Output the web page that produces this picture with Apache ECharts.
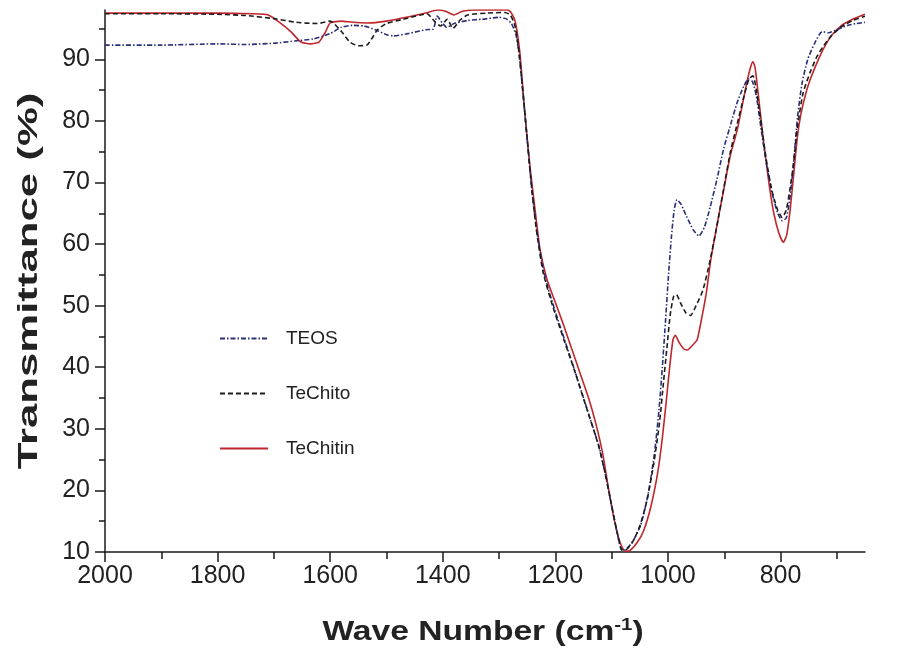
<!DOCTYPE html>
<html>
<head>
<meta charset="utf-8">
<script src="https://cdn.jsdelivr.net/npm/echarts@6/dist/echarts.min.js"></script>
<style>
html,body{margin:0;padding:0;background:#fff;}
#chart{width:898px;height:658px;}
</style>
</head>
<body>
<div id="chart"></div>
<script>
const seriesNames = ['TEOS', 'TeChito', 'TeChitin'];
const xMajorTicks = [2000, 1800, 1600, 1400, 1200, 1000, 800];
const xMinorTicks = [1900, 1700, 1500, 1300, 1100, 900, 700];
const yMajorTicks = [10, 20, 30, 40, 50, 60, 70, 80, 90];
const yMinorTicks = [15, 25, 35, 45, 55, 65, 75, 85, 95];

const teosData = [
  [2000, 92.3], [1900, 92.3], [1800, 92.5], [1750, 92.4], [1700, 92.6], [1660, 93.0], [1630, 93.3],
  [1600, 94.2], [1580, 95.2], [1560, 95.5], [1540, 95.4], [1520, 94.8], [1500, 94.0], [1488, 93.8],
  [1460, 94.2], [1430, 94.8], [1417, 94.9], [1410, 97.0], [1400, 95.8], [1393, 95.2], [1380, 95.8],
  [1356, 96.3], [1330, 96.5], [1300, 96.8], [1288, 96.6], [1278, 95.8], [1270, 94], [1264, 90.5],
  [1257, 84], [1250, 77], [1242, 69], [1232, 61.5], [1218, 54.5], [1200, 49], [1182, 44],
  [1164, 39], [1150, 35], [1136, 31], [1122, 27], [1110, 22], [1100, 17.5], [1090, 13], [1082, 10.3],
  [1075, 10.4], [1062, 11.8], [1048, 14.5], [1035, 19.5], [1024, 26], [1016, 33], [1010, 40],
  [1004, 48], [999, 55], [994, 61], [989, 65.5], [984, 67.2], [977, 66.5], [967, 64.5], [955, 62.3],
  [945, 61.3], [935, 62.8], [925, 66], [913, 70.5], [901, 75.5], [890, 79], [877, 83], [865, 85.7],
  [857, 86.8], [850, 86.4], [843, 84], [835, 79], [825, 73], [815, 68.3], [805, 65], [797, 63.8],
  [790, 64.2], [784, 67], [777, 73], [770, 80.5], [762, 86], [752, 89.9], [740, 92.5], [726, 94.5],
  [715, 94.3], [700, 94.8], [681, 95.5], [665, 95.8], [650, 96.0]
];

const techitoData = [
  [2000, 97.4], [1900, 97.4], [1800, 97.3], [1750, 97.1], [1700, 96.6], [1660, 96.0], [1623, 95.8],
  [1600, 96.2], [1580, 94.5], [1565, 92.8], [1550, 92.2], [1535, 92.3], [1525, 93.5], [1516, 94.8],
  [1500, 95.8], [1470, 96.5], [1440, 97.2], [1428, 97.4], [1415, 96.2], [1404, 95.4], [1392, 96.5],
  [1382, 95.0], [1370, 96.3], [1356, 97.2], [1320, 97.5], [1290, 97.6], [1280, 97.2], [1272, 95.5],
  [1265, 91.5], [1258, 85], [1251, 78], [1243, 70], [1234, 62.5], [1222, 55.5], [1205, 50],
  [1185, 44.5], [1168, 40], [1152, 35.5], [1138, 31.5], [1124, 27.5], [1112, 23], [1101, 18],
  [1091, 13.5], [1083, 10.5], [1076, 10.3], [1063, 11.6], [1050, 14.2], [1037, 18.5], [1025, 24.5],
  [1015, 31], [1008, 37.5], [1002, 43], [996, 48.5], [990, 51.5], [985, 51.8], [978, 50.5],
  [968, 48.8], [960, 48.4], [950, 50], [938, 52.5], [926, 57], [914, 62.5], [901, 69], [889, 75],
  [877, 79.5], [865, 84], [856, 86.8], [849, 87.3], [843, 85], [835, 80], [825, 73.5], [815, 68.5],
  [805, 65.5], [797, 64.3], [790, 65.5], [784, 68.5], [777, 73], [770, 79], [760, 84.5], [747, 88],
  [735, 90.5], [725, 92], [710, 93.8], [693, 95.2], [672, 96.3], [650, 97.0]
];

const techitinData = [
  [2000, 97.5], [1900, 97.5], [1800, 97.5], [1740, 97.4], [1710, 97.2], [1690, 96.0], [1670, 94.5],
  [1652, 92.8], [1635, 92.5], [1620, 92.8], [1608, 94.5], [1600, 95.9], [1580, 96.2], [1560, 96.0],
  [1534, 95.9], [1500, 96.2], [1460, 96.9], [1430, 97.5], [1410, 98.0], [1395, 97.8], [1380, 97.2],
  [1365, 97.8], [1340, 98.0], [1300, 98.0], [1285, 98.0], [1278, 97.5], [1271, 96.0], [1263, 91],
  [1254, 81], [1245, 72.5], [1236, 65.5], [1227, 59], [1215, 54.3], [1200, 50.5], [1186, 47],
  [1171, 43], [1156, 39], [1141, 35], [1128, 30.8], [1116, 26], [1106, 20.5], [1096, 15.5],
  [1086, 11.8], [1076, 10.1], [1068, 10.2], [1055, 11.5], [1043, 13.5], [1030, 17.5], [1018, 23],
  [1010, 28.5], [1003, 34.5], [997, 40], [991, 44.5], [987, 45.2], [980, 44], [972, 43], [966, 42.8],
  [956, 43.6], [948, 44.5], [940, 48], [932, 52], [924, 57.4], [912, 63.5], [901, 68.8], [889, 74.5],
  [877, 78.5], [867, 83], [859, 86.6], [853, 88.8], [849, 89.6], [845, 88.5], [838, 83], [830, 76.5],
  [820, 69.5], [812, 65], [803, 61.8], [795, 60.3], [789, 61.5], [783, 65.5], [777, 71], [770, 77.5],
  [764, 81], [755, 84.5], [747, 86.8], [735, 89.5], [725, 91.5], [710, 93.8], [693, 95.4], [672, 96.5],
  [650, 97.3]
];

const chart = echarts.init(document.getElementById('chart'), null, {renderer: 'canvas'});
const axisColor = '#1a1a1a';
const labelFont = 'Liberation Sans, Arial, sans-serif';
const plainNum = function (v) { return String(v); };

const option = {
  backgroundColor: '#ffffff',
  animation: false,
  grid: {left: 105, right: 33, top: 10, bottom: 106, containLabel: false},
  xAxis: [
    {
      type: 'value', min: 650, max: 2000, inverse: true, position: 'bottom',
      axisLine: {show: true, onZero: false, lineStyle: {color: axisColor, width: 1.5}},
      axisTick: {show: true, length: 10, customValues: xMajorTicks, lineStyle: {color: axisColor, width: 1.5}},
      axisLabel: {customValues: xMajorTicks, formatter: plainNum, fontSize: 25, color: '#222', fontFamily: labelFont, margin: 12},
      splitLine: {show: false}
    },
    {
      type: 'value', min: 650, max: 2000, inverse: true, position: 'bottom', gridIndex: 0,
      axisLine: {show: false, onZero: false},
      axisTick: {show: true, length: 7, customValues: xMinorTicks, lineStyle: {color: axisColor, width: 1.5}},
      axisLabel: {show: false},
      splitLine: {show: false}
    }
  ],
  yAxis: [
    {
      type: 'value', min: 10, max: 98, position: 'left',
      axisLine: {show: true, onZero: false, lineStyle: {color: axisColor, width: 1.5}},
      axisTick: {show: true, length: 10, customValues: yMajorTicks, lineStyle: {color: axisColor, width: 1.5}},
      axisLabel: {customValues: yMajorTicks, formatter: plainNum, fontSize: 25, color: '#222', fontFamily: labelFont, margin: 15},
      splitLine: {show: false}
    },
    {
      type: 'value', min: 10, max: 98, position: 'left', gridIndex: 0,
      axisLine: {show: false, onZero: false},
      axisTick: {show: true, length: 6, customValues: yMinorTicks, lineStyle: {color: axisColor, width: 1.5}},
      axisLabel: {show: false},
      splitLine: {show: false}
    }
  ],
  legend: {
    orient: 'vertical', left: 214, top: 324,
    itemWidth: 48, itemHeight: 22, itemGap: 36,
    itemStyle: {opacity: 0},
    textStyle: {fontSize: 19, color: '#222', fontFamily: labelFont, padding: [0, 0, 0, 13]},
    data: seriesNames
  },
  graphic: [
    {
      type: 'text', x: 30, y: 281, rotation: Math.PI / 2, scaleX: 1.62,
      style: {text: 'Transmittance (%)', font: 'bold 27px Liberation Sans, Arial, sans-serif',
        fill: '#222', align: 'center', verticalAlign: 'middle'}
    },
    {
      type: 'text', x: 483, y: 632, scaleX: 1.2,
      style: {
        text: 'Wave Number (cm{sup|-1})',
        font: 'bold 28px Liberation Sans, Arial, sans-serif',
        fill: '#222', align: 'center', verticalAlign: 'middle',
        rich: {sup: {fontSize: 17, fontWeight: 'bold', verticalAlign: 'top', padding: [0, 0, 14, 0], fontFamily: 'Liberation Sans, Arial, sans-serif'}}
      }
    }
  ],
  series: [
    {
      name: seriesNames[0], type: 'line', xAxisIndex: 0, yAxisIndex: 0, data: teosData,
      showSymbol: false, symbol: 'none', smooth: 0.2,
      lineStyle: {color: '#2a2f78', width: 1.6, type: [5, 2, 1.5, 2]},
      itemStyle: {color: '#2a2f78'}, z: 3
    },
    {
      name: seriesNames[1], type: 'line', xAxisIndex: 0, yAxisIndex: 0, data: techitoData,
      showSymbol: false, symbol: 'none', smooth: 0.2,
      lineStyle: {color: '#1c1c1c', width: 1.6, type: [5, 3]},
      itemStyle: {color: '#1c1c1c'}, z: 4
    },
    {
      name: seriesNames[2], type: 'line', xAxisIndex: 0, yAxisIndex: 0, data: techitinData,
      showSymbol: false, symbol: 'none', smooth: 0.2,
      lineStyle: {color: '#c0272d', width: 1.6, type: 'solid'},
      itemStyle: {color: '#c0272d'}, z: 2
    }
  ]
};
chart.setOption(option);
</script>
</body>
</html>
